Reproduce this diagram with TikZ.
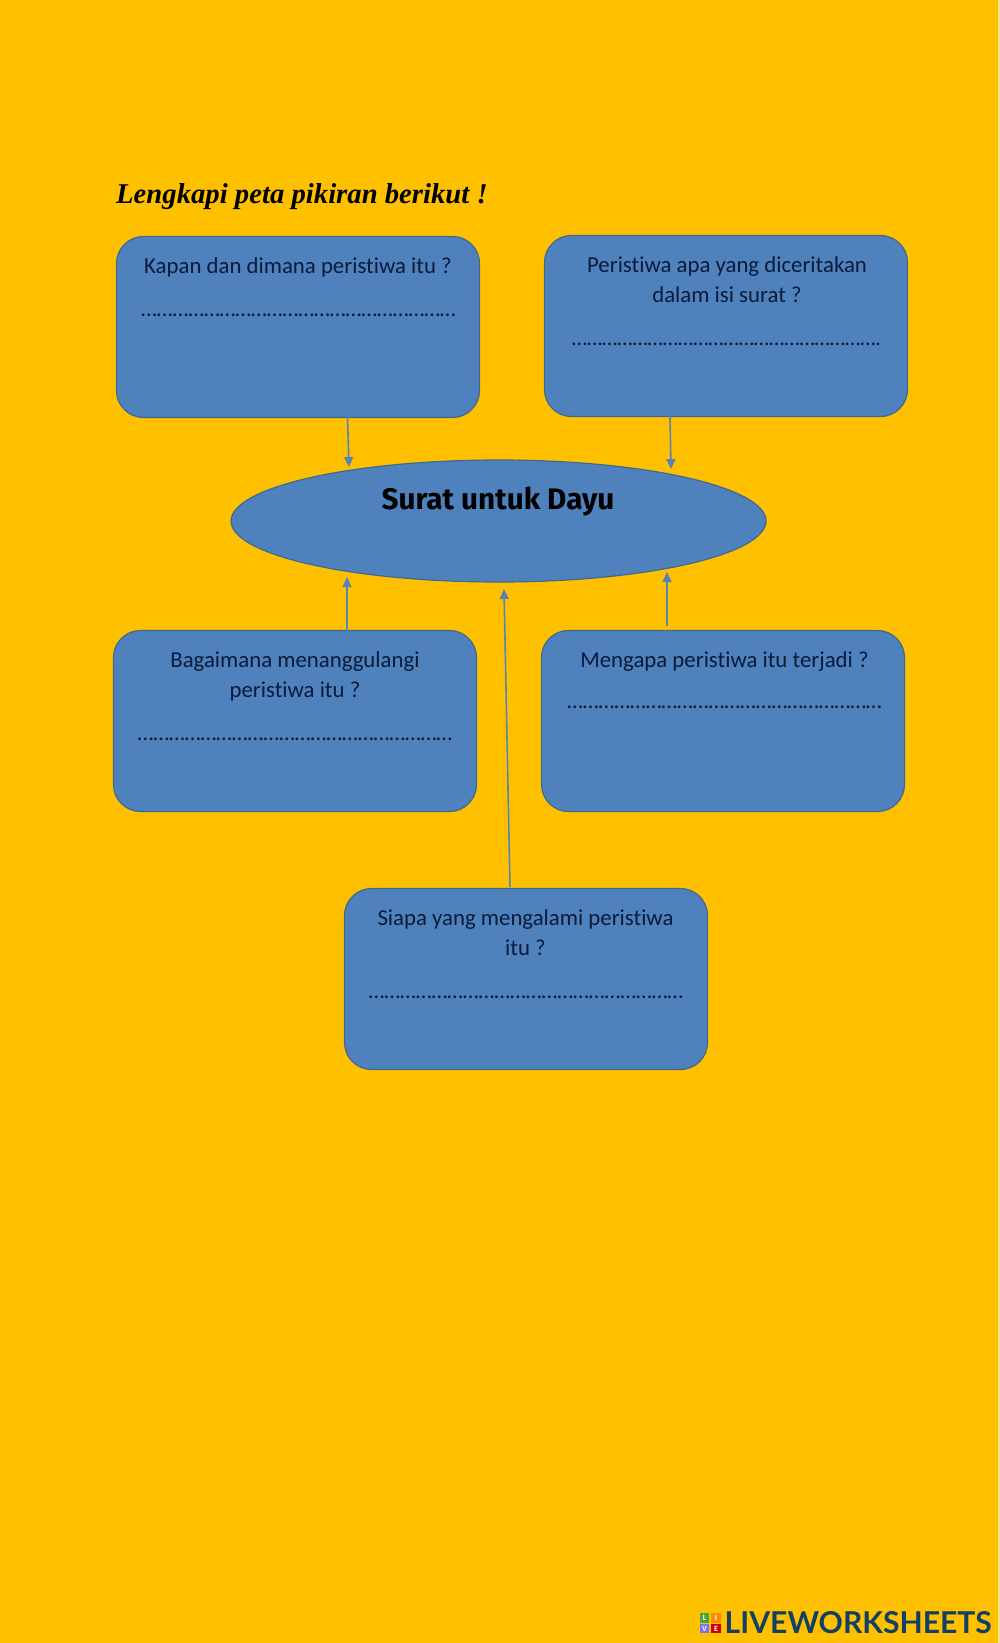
\documentclass[tikz,border=0pt]{standalone}
\usepackage{fontspec}
\usetikzlibrary{shapes.geometric,arrows.meta}
\setmainfont[Ligatures=NoCommon]{Carlito}
\newfontfamily\titlefont{Liberation Serif}
\newfontfamily\headfont{Fira Sans}
\newfontfamily\logofont{Lato}
\definecolor{pagebg}{HTML}{FFC000}
\definecolor{edgebg}{HTML}{FBE3A0}
\definecolor{boxfill}{HTML}{4F81BD}
\definecolor{boxline}{HTML}{3F6A8F}
\definecolor{arrowc}{HTML}{5585B5}
\definecolor{boxtext}{HTML}{0B1B3A}
\definecolor{logoc}{HTML}{123F66}
\newcommand{\dotpart}{……………}
\newcommand{\dotrow}{\dotpart\dotpart\dotpart\dotpart}
\tikzset{
  x=1pt,y=-1pt,
  qbox/.style={draw=boxline,line width=1.2pt,fill=boxfill,rounded corners=27pt,rectangle,minimum width=363pt,minimum height=181pt,anchor=north west,inner sep=0pt,outer sep=0pt},
  qtext/.style={font=\fontsize{22.8}{30}\selectfont,text=boxtext,align=center,anchor=center,inner sep=0pt},
  dottext/.style={font=\fontsize{22.8}{30}\selectfont,text=boxtext,anchor=base,inner sep=0pt},
  conn/.style={draw=arrowc,line width=1.6pt,-{Triangle[length=10pt,width=9pt]}},
  lg/.style={minimum size=9.5pt,inner sep=0pt,font=\fontsize{8}{8}\selectfont\bfseries,text=white},
}
\begin{document}
\begin{tikzpicture}
\useasboundingbox (0,0) rectangle (1000,1643);
\fill[edgebg] (0,0) rectangle (1000,1643);
\fill[pagebg] (0,0) rectangle (997.5,1643);
\node[qbox] (b1) at (116.5,236.5) {};
\node[qbox] (b2) at (544.5,235.5) {};
\node[qbox] (b3) at (113.5,630.5) {};
\node[qbox] (b4) at (541.5,630.5) {};
\node[qbox] (b5) at (344.5,888.5) {};
\node[ellipse,draw=boxline,line width=1.2pt,fill=boxfill,minimum width=535pt,minimum height=122pt,inner sep=0pt,outer sep=0pt] (hub) at (498.5,521) {};
\node[font=\titlefont\fontsize{28.7}{29}\selectfont\bfseries\itshape,anchor=west,inner sep=0pt] (title) at (116,197) {Lengkapi peta pikiran berikut !};
\node[font=\headfont\fontsize{29.7}{30}\selectfont\bfseries,inner sep=0pt] (hubt) at (498,502) {Surat untuk Dayu};
\node[qtext] (t1a) at (298,267.5) {Kapan dan dimana peristiwa itu ?};
\node[dottext] (t1b) at (298.5,316) {\dotrow};
\node[qtext] (t2a) at (727,280) {Peristiwa apa yang diceritakan\\dalam isi surat ?};
\node[dottext,font=\fontsize{22}{30}\selectfont] (t2b) at (726.5,345) {\dotrow.};
\node[qtext] (t3a) at (295,676.5) {Bagaimana menanggulangi\\peristiwa itu ?};
\node[dottext] (t3b) at (295,740) {\dotrow};
\node[qtext] (t4a) at (724.5,662) {Mengapa peristiwa itu terjadi ?};
\node[dottext] (t4b) at (724.5,708) {\dotrow};
\node[qtext] (t5a) at (525.5,933) {Siapa yang mengalami peristiwa\\itu ?};
\node[dottext] (t5b) at (526,998) {\dotrow};
\coordinate (e1) at (349,467);
\coordinate (e2) at (671,469);
\coordinate (e3) at (347,577);
\coordinate (e4) at (667,572);
\coordinate (e5) at (504,589);
\coordinate (s4) at (667,626);
\coordinate (s5) at (510,887);
\draw[conn] (347.5,0 |- b1.south) -- (e1);
\draw[conn] (670,0 |- b2.south) -- (e2);
\draw[conn] (347,0 |- b3.north) -- (e3);
\draw[conn] (s4) -- (e4);
\draw[conn] (s5) -- (e5);
\node[font=\logofont\fontsize{30.1}{31}\selectfont\bfseries,text=logoc,anchor=west,inner sep=0pt] (logo) at (724.5,1623) {LIVEWORKSHEETS};
\node[lg,fill=green!55!black!75!white] (l1) at (704.5,1618) {L};
\node[lg,fill=orange!90!yellow] (l2) at (716,1618) {I};
\node[lg,fill=blue!55!white] (l3) at (704.5,1628.5) {V};
\node[lg,fill=red!80!black] (l4) at (716,1628.5) {E};
\end{tikzpicture}
\end{document}
